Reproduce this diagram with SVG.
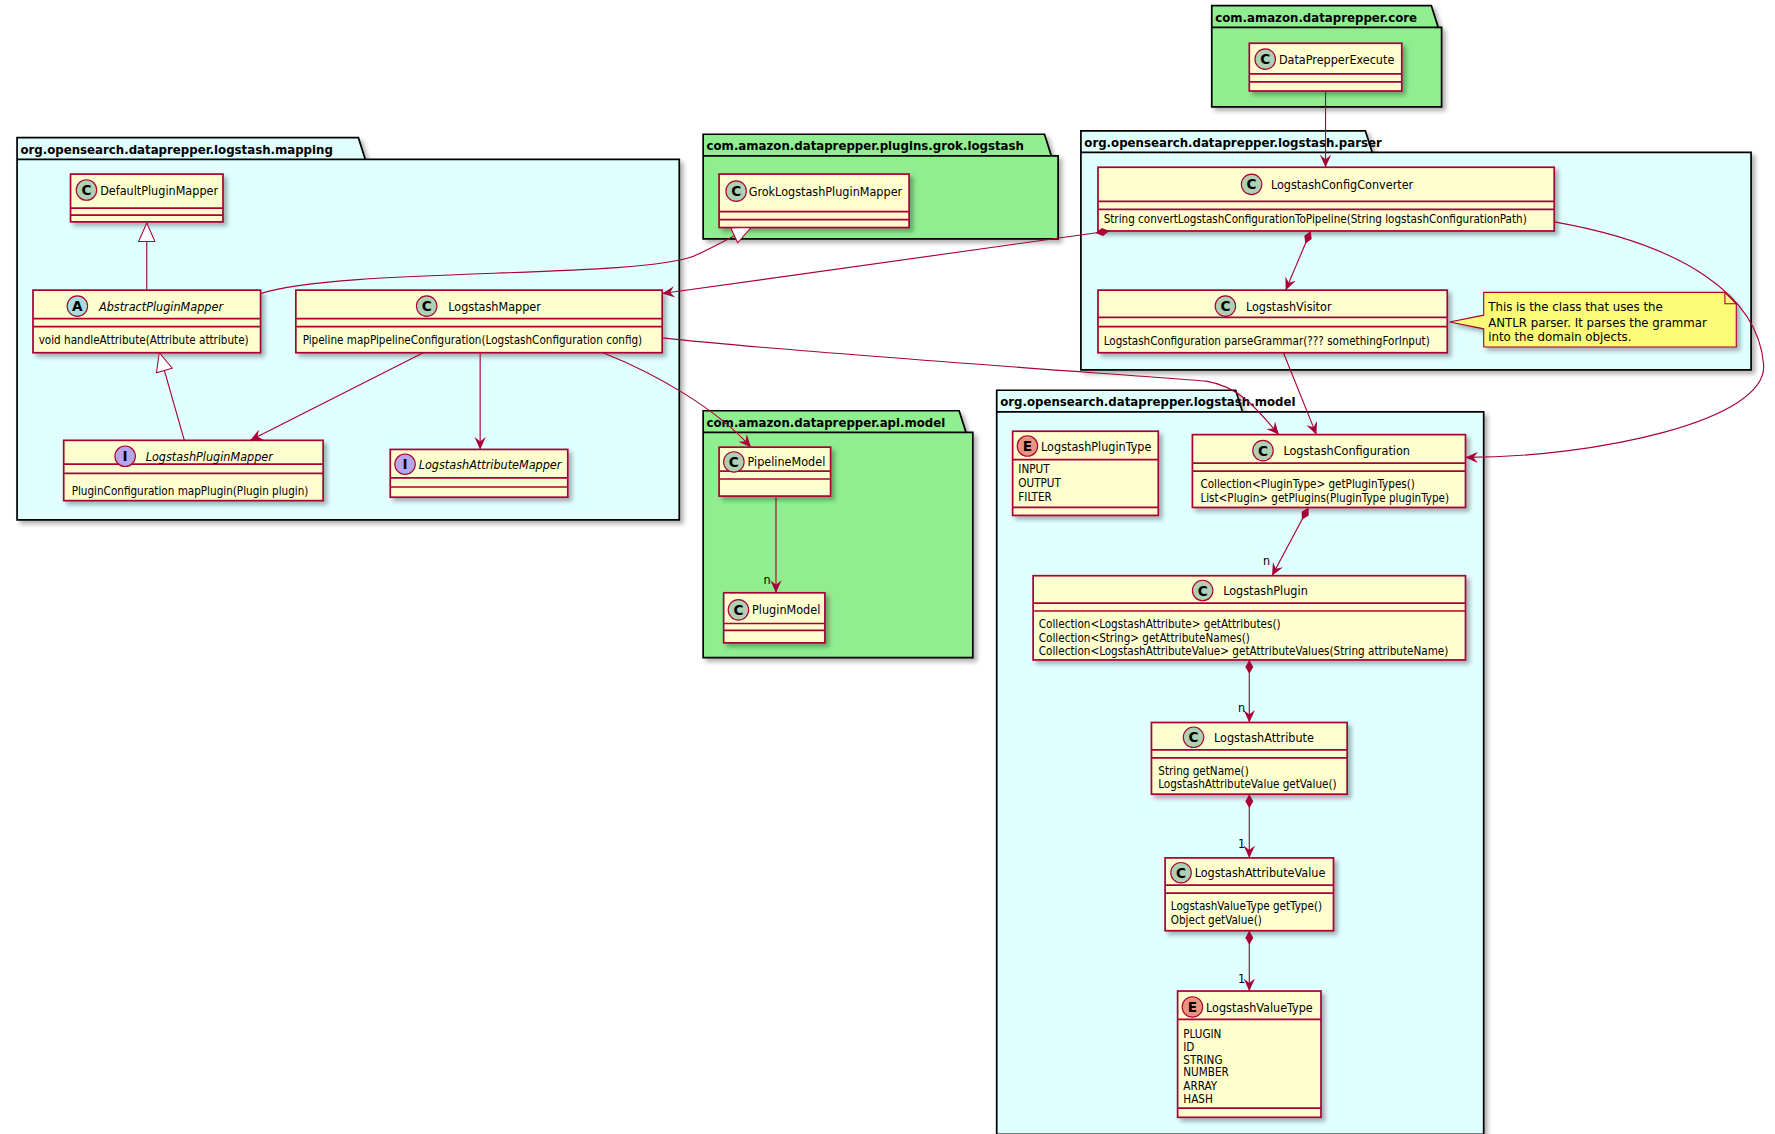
<svg xmlns="http://www.w3.org/2000/svg" width="1775" height="1134" viewBox="0 0 1775 1134">
<style>
.pk{stroke:#000;stroke-width:1.5}
.pc{fill:#E0FFFF}.pg{fill:#90EE90}
.pt{font-family:"DejaVu Sans Condensed","DejaVu Sans",sans-serif;font-size:11.5px;font-weight:bold;fill:#000}
.cb{fill:#FEFECE;stroke:#A80036;stroke-width:1.5}
.ln{stroke:#A80036;stroke-width:1.5}
.cn{font-family:"DejaVu Sans Condensed","DejaVu Sans",sans-serif;font-size:11px;fill:#000}
.it{font-style:italic}
.m{font-family:"DejaVu Sans Condensed","DejaVu Sans",sans-serif;font-size:10.2px;fill:#000}
.ic{stroke:#A80036;stroke-width:1}
.il{font-family:"DejaVu Sans",sans-serif;font-size:12px;font-weight:bold;fill:#000;text-anchor:middle}
.e{fill:none;stroke:#A80036;stroke-width:1}
.lb{font-family:"DejaVu Sans Condensed","DejaVu Sans",sans-serif;font-size:11px;fill:#000}
</style>
<defs>
<filter id="sh" x="-10%" y="-10%" width="130%" height="140%"><feDropShadow dx="3" dy="3" stdDeviation="2" flood-color="#000" flood-opacity="0.3"/></filter>
<marker id="ar" viewBox="0 0 12 12" refX="11" refY="6" markerWidth="12" markerHeight="12" orient="auto" markerUnits="userSpaceOnUse"><path d="M0,1 L11,6 L0,11 L4,6 Z" fill="#A80036"/></marker>
<marker id="tri" viewBox="0 0 20 20" refX="19" refY="10" markerWidth="18" markerHeight="18" orient="auto" markerUnits="userSpaceOnUse"><path d="M1,2 L19,10 L1,18 Z" fill="#fff" stroke="#A80036"/></marker>
<marker id="dia" viewBox="0 0 16 10" refX="1" refY="5" markerWidth="14" markerHeight="9" orient="auto" markerUnits="userSpaceOnUse"><path d="M1,5 L8,1 L15,5 L8,9 Z" fill="#A80036"/></marker>
</defs>
<rect width="1775" height="1134" fill="#fff"/>
<g transform="scale(1.1378)">
<g id="pkg-mapping"><path class="pk pc" filter="url(#sh)" d="M15,121 H315 L321,140 H597 V457 H15 Z"/><line class="pk" x1="15" y1="140" x2="321" y2="140"/><text class="pt" x="18" y="135">org.opensearch.dataprepper.logstash.mapping</text></g>
<g id="pkg-grok"><path class="pk pg" filter="url(#sh)" d="M618,118 H918 L924,137 H930 V210 H618 Z"/><line class="pk" x1="618" y1="137" x2="924" y2="137"/><text class="pt" x="621" y="132">com.amazon.dataprepper.plugins.grok.logstash</text></g>
<g id="pkg-core"><path class="pk pg" filter="url(#sh)" d="M1065,5 H1258 L1264,24 H1267 V94 H1065 Z"/><line class="pk" x1="1065" y1="24" x2="1264" y2="24"/><text class="pt" x="1068" y="19">com.amazon.dataprepper.core</text></g>
<g id="pkg-parser"><path class="pk pc" filter="url(#sh)" d="M950,115 H1200 L1206,134 H1539 V325 H950 Z"/><line class="pk" x1="950" y1="134" x2="1206" y2="134"/><text class="pt" x="953" y="129">org.opensearch.dataprepper.logstash.parser</text></g>
<g id="pkg-api"><path class="pk pg" filter="url(#sh)" d="M618,361 H843 L849,380 H855 V578 H618 Z"/><line class="pk" x1="618" y1="380" x2="849" y2="380"/><text class="pt" x="621" y="375">com.amazon.dataprepper.api.model</text></g>
<g id="pkg-model"><path class="pk pc" filter="url(#sh)" d="M876,343 H1086 L1092,362 H1304 V997 H876 Z"/><line class="pk" x1="876" y1="362" x2="1092" y2="362"/><text class="pt" x="879" y="357">org.opensearch.dataprepper.logstash.model</text></g>

<g id="DefaultPluginMapper"><rect class="cb" filter="url(#sh)" x="62" y="153" width="134" height="42"/><line class="ln" x1="62" y1="183" x2="196" y2="183"/><line class="ln" x1="62" y1="189" x2="196" y2="189"/><circle class="ic" cx="76" cy="167" r="9" fill="#ADD1B2"/><text class="il" x="76" y="171.5">C</text><text class="cn" x="88" y="171">DefaultPluginMapper</text></g>
<g id="AbstractPluginMapper"><rect class="cb" filter="url(#sh)" x="29" y="255" width="200" height="55"/><line class="ln" x1="29" y1="280" x2="229" y2="280"/><line class="ln" x1="29" y1="287" x2="229" y2="287"/><circle class="ic" cx="68" cy="269" r="9" fill="#A9DCDF"/><text class="il" x="68" y="273.5">A</text><text class="cn it" x="87" y="273">AbstractPluginMapper</text><text class="m" x="34" y="302">void handleAttribute(Attribute attribute)</text></g>
<g id="LogstashMapper"><rect class="cb" filter="url(#sh)" x="260" y="255" width="322" height="55"/><line class="ln" x1="260" y1="280" x2="582" y2="280"/><line class="ln" x1="260" y1="287" x2="582" y2="287"/><circle class="ic" cx="375" cy="269" r="9" fill="#ADD1B2"/><text class="il" x="375" y="273.5">C</text><text class="cn" x="394" y="273">LogstashMapper</text><text class="m" x="266" y="302">Pipeline mapPipelineConfiguration(LogstashConfiguration config)</text></g>
<g id="LogstashPluginMapper"><rect class="cb" filter="url(#sh)" x="56" y="387" width="228" height="53"/><line class="ln" x1="56" y1="408" x2="284" y2="408"/><line class="ln" x1="56" y1="416" x2="284" y2="416"/><circle class="ic" cx="110" cy="401" r="9" fill="#B4A7E5"/><text class="il" x="110" y="405.5">I</text><text class="cn it" x="128" y="405">LogstashPluginMapper</text><text class="m" x="63" y="435">PluginConfiguration mapPlugin(Plugin plugin)</text></g>
<g id="LogstashAttributeMapper"><rect class="cb" filter="url(#sh)" x="343" y="395" width="156" height="42"/><line class="ln" x1="343" y1="420" x2="499" y2="420"/><line class="ln" x1="343" y1="428" x2="499" y2="428"/><circle class="ic" cx="356" cy="408" r="9" fill="#B4A7E5"/><text class="il" x="356" y="412.5">I</text><text class="cn it" x="368" y="412">LogstashAttributeMapper</text></g>
<g id="GrokLogstashPluginMapper"><rect class="cb" filter="url(#sh)" x="632" y="153" width="167" height="47"/><line class="ln" x1="632" y1="186" x2="799" y2="186"/><line class="ln" x1="632" y1="193" x2="799" y2="193"/><circle class="ic" cx="647" cy="168" r="9" fill="#ADD1B2"/><text class="il" x="647" y="172.5">C</text><text class="cn" x="658" y="172">GrokLogstashPluginMapper</text></g>
<g id="DataPrepperExecute"><rect class="cb" filter="url(#sh)" x="1098" y="38" width="134" height="42"/><line class="ln" x1="1098" y1="65" x2="1232" y2="65"/><line class="ln" x1="1098" y1="72" x2="1232" y2="72"/><circle class="ic" cx="1112" cy="52" r="9" fill="#ADD1B2"/><text class="il" x="1112" y="56.5">C</text><text class="cn" x="1124" y="56">DataPrepperExecute</text></g>
<g id="LogstashConfigConverter"><rect class="cb" filter="url(#sh)" x="965" y="147" width="401" height="56"/><line class="ln" x1="965" y1="177" x2="1366" y2="177"/><line class="ln" x1="965" y1="184" x2="1366" y2="184"/><circle class="ic" cx="1100" cy="162" r="9" fill="#ADD1B2"/><text class="il" x="1100" y="166.5">C</text><text class="cn" x="1117" y="166">LogstashConfigConverter</text><text class="m" x="970" y="196">String convertLogstashConfigurationToPipeline(String logstashConfigurationPath)</text></g>
<g id="LogstashVisitor"><rect class="cb" filter="url(#sh)" x="965" y="255" width="307" height="55"/><line class="ln" x1="965" y1="279" x2="1272" y2="279"/><line class="ln" x1="965" y1="287" x2="1272" y2="287"/><circle class="ic" cx="1077" cy="269" r="9" fill="#ADD1B2"/><text class="il" x="1077" y="273.5">C</text><text class="cn" x="1095" y="273">LogstashVisitor</text><text class="m" x="970" y="303">LogstashConfiguration parseGrammar(??? somethingForInput)</text></g>
<g id="note"><path filter="url(#sh)" d="M1304,257 H1516 L1526,267 V305 H1304 V289 L1274,283 L1304,277 Z" fill="#FBFB77" stroke="#A80036" stroke-width="1"/><path d="M1516,257 V267 H1526" fill="none" stroke="#A80036" stroke-width="1"/><text class="m" x="1308" y="273" style="font-size:11.5px">This is the class that uses the</text><text class="m" x="1308" y="287" style="font-size:11.5px">ANTLR parser. It parses the grammar</text><text class="m" x="1308" y="300" style="font-size:11.5px">into the domain objects.</text></g>
<g id="PipelineModel"><rect class="cb" filter="url(#sh)" x="632" y="393" width="98" height="43"/><line class="ln" x1="632" y1="414" x2="730" y2="414"/><line class="ln" x1="632" y1="421" x2="730" y2="421"/><circle class="ic" cx="645" cy="406" r="9" fill="#ADD1B2"/><text class="il" x="645" y="410.5">C</text><text class="cn" x="657" y="410">PipelineModel</text></g>
<g id="PluginModel"><rect class="cb" filter="url(#sh)" x="636" y="521" width="89" height="44"/><line class="ln" x1="636" y1="548" x2="725" y2="548"/><line class="ln" x1="636" y1="554" x2="725" y2="554"/><circle class="ic" cx="649" cy="536" r="9" fill="#ADD1B2"/><text class="il" x="649" y="540.5">C</text><text class="cn" x="661" y="540">PluginModel</text></g>
<g id="LogstashPluginType"><rect class="cb" filter="url(#sh)" x="890" y="379" width="128" height="74"/><line class="ln" x1="890" y1="404" x2="1018" y2="404"/><line class="ln" x1="890" y1="446" x2="1018" y2="446"/><circle class="ic" cx="903" cy="392" r="9" fill="#EB937F"/><text class="il" x="903" y="396.5">E</text><text class="cn" x="915" y="396">LogstashPluginType</text><text class="m" x="895" y="416">INPUT</text><text class="m" x="895" y="428">OUTPUT</text><text class="m" x="895" y="440">FILTER</text></g>
<g id="LogstashConfiguration"><rect class="cb" filter="url(#sh)" x="1048" y="382" width="240" height="64"/><line class="ln" x1="1048" y1="407" x2="1288" y2="407"/><line class="ln" x1="1048" y1="414" x2="1288" y2="414"/><circle class="ic" cx="1110" cy="396" r="9" fill="#ADD1B2"/><text class="il" x="1110" y="400.5">C</text><text class="cn" x="1128" y="400">LogstashConfiguration</text><text class="m" x="1055" y="429">Collection&lt;PluginType&gt; getPluginTypes()</text><text class="m" x="1055" y="441">List&lt;Plugin&gt; getPlugins(PluginType pluginType)</text></g>
<g id="LogstashPlugin"><rect class="cb" filter="url(#sh)" x="908" y="506" width="380" height="74"/><line class="ln" x1="908" y1="530" x2="1288" y2="530"/><line class="ln" x1="908" y1="537" x2="1288" y2="537"/><circle class="ic" cx="1057" cy="519" r="9" fill="#ADD1B2"/><text class="il" x="1057" y="523.5">C</text><text class="cn" x="1075" y="523">LogstashPlugin</text><text class="m" x="913" y="552">Collection&lt;LogstashAttribute&gt; getAttributes()</text><text class="m" x="913" y="564">Collection&lt;String&gt; getAttributeNames()</text><text class="m" x="913" y="576">Collection&lt;LogstashAttributeValue&gt; getAttributeValues(String attributeName)</text></g>
<g id="LogstashAttribute"><rect class="cb" filter="url(#sh)" x="1012" y="635" width="172" height="63"/><line class="ln" x1="1012" y1="659" x2="1184" y2="659"/><line class="ln" x1="1012" y1="666" x2="1184" y2="666"/><circle class="ic" cx="1049" cy="648" r="9" fill="#ADD1B2"/><text class="il" x="1049" y="652.5">C</text><text class="cn" x="1067" y="652">LogstashAttribute</text><text class="m" x="1018" y="681">String getName()</text><text class="m" x="1018" y="693">LogstashAttributeValue getValue()</text></g>
<g id="LogstashAttributeValue"><rect class="cb" filter="url(#sh)" x="1024" y="754" width="148" height="64"/><line class="ln" x1="1024" y1="778" x2="1172" y2="778"/><line class="ln" x1="1024" y1="785" x2="1172" y2="785"/><circle class="ic" cx="1038" cy="767" r="9" fill="#ADD1B2"/><text class="il" x="1038" y="771.5">C</text><text class="cn" x="1050" y="771">LogstashAttributeValue</text><text class="m" x="1029" y="800">LogstashValueType getType()</text><text class="m" x="1029" y="812">Object getValue()</text></g>
<g id="LogstashValueType"><rect class="cb" filter="url(#sh)" x="1035" y="871" width="126" height="111"/><line class="ln" x1="1035" y1="896" x2="1161" y2="896"/><line class="ln" x1="1035" y1="974" x2="1161" y2="974"/><circle class="ic" cx="1048" cy="885" r="9" fill="#EB937F"/><text class="il" x="1048" y="889.5">E</text><text class="cn" x="1060" y="889">LogstashValueType</text><text class="m" x="1040" y="912">PLUGIN</text><text class="m" x="1040" y="924">ID</text><text class="m" x="1040" y="935">STRING</text><text class="m" x="1040" y="946">NUMBER</text><text class="m" x="1040" y="958">ARRAY</text><text class="m" x="1040" y="969">HASH</text></g>

<g id="connectors">
<path class="e" d="M129,255 V196" marker-end="url(#tri)"/>
<path class="e" d="M162,387 L140,310" marker-end="url(#tri)"/>
<path class="e" d="M229,258 C300,235 560,245 610,225 C630,216 645,207 660,200" marker-end="url(#tri)"/>
<path class="e" d="M372,310 L220,387" marker-end="url(#ar)"/>
<path class="e" d="M422,310 V395" marker-end="url(#ar)"/>
<path class="e" d="M530,310 C580,330 630,360 660,393" marker-end="url(#ar)"/>
<path class="e" d="M582,297 C700,310 1000,330 1060,335 C1090,340 1105,360 1124,382" marker-end="url(#ar)"/>
<path class="e" d="M975,203 L582,258" marker-start="url(#dia)" marker-end="url(#ar)"/>
<path class="e" d="M1165,80 V147" marker-end="url(#ar)"/>
<path class="e" d="M1152,203 L1130,255" marker-start="url(#dia)" marker-end="url(#ar)"/>
<path class="e" d="M1366,195 C1480,215 1545,260 1550,320 C1555,370 1400,402 1288,402" marker-end="url(#ar)"/>
<path class="e" d="M1128,310 L1157,382" marker-end="url(#ar)"/>
<path class="e" d="M1150,446 L1118,506" marker-start="url(#dia)" marker-end="url(#ar)"/>
<path class="e" d="M682,436 V521" marker-end="url(#ar)"/>
<path class="e" d="M1098,580 V635" marker-start="url(#dia)" marker-end="url(#ar)"/>
<path class="e" d="M1098,698 V754" marker-start="url(#dia)" marker-end="url(#ar)"/>
<path class="e" d="M1098,818 V871" marker-start="url(#dia)" marker-end="url(#ar)"/>
<text class="lb" x="1110" y="497">n</text>
<text class="lb" x="671" y="513">n</text>
<text class="lb" x="1088" y="626">n</text>
<text class="lb" x="1088" y="745">1</text>
<text class="lb" x="1088" y="864">1</text>
</g>
</g>
</svg>
